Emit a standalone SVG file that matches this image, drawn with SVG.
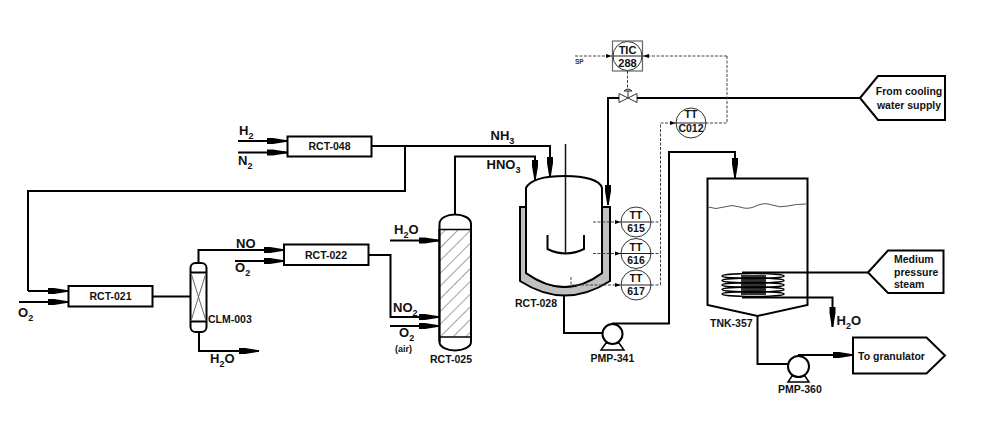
<svg xmlns="http://www.w3.org/2000/svg" width="990" height="446" viewBox="0 0 990 446">
<style>
text{font-family:"Liberation Sans",Arial,sans-serif;font-weight:bold;fill:#111}
.l{font-size:10.5px}
.c{font-size:13px}
.s{font-size:9px}
.i{font-size:10.5px;text-anchor:middle}
.p{fill:none;stroke:#000;stroke-width:2}
.a{marker-end:url(#ah)}
.b{fill:#fff;stroke:#000;stroke-width:2}
.t{fill:none;stroke:#000;stroke-width:1.5}
.d{fill:none;stroke:#444;stroke-width:1;stroke-dasharray:3 1.5}
.da{marker-end:url(#sa)}
.n{fill:#fff;stroke:#333;stroke-width:1}
.r{stroke:#222;stroke-width:1}
</style>
<defs>
<marker id="ah" markerUnits="userSpaceOnUse" markerWidth="22" markerHeight="10" refX="20" refY="5" orient="auto">
<path d="M0 2H6L20 4.300V5.700L6 8H0Z" fill="#000"/>
</marker>
<marker id="sa" markerUnits="userSpaceOnUse" markerWidth="7" markerHeight="6" refX="6" refY="3" orient="auto">
<path d="M0 1L6 3L0 5Z" fill="#000"/>
</marker>
<pattern id="hatch" width="9" height="9" patternUnits="userSpaceOnUse" patternTransform="rotate(45)">
<rect width="9" height="9" fill="#fff"/><path d="M0 0V9" stroke="#444" stroke-width="1"/>
</pattern>
</defs>

<g id="rct-048"><rect class="b" x="287.500" y="136.500" width="84" height="20"/><text class="l" x="329.500" y="150" text-anchor="middle">RCT-048</text></g>
<g id="rct-021"><rect class="b" x="68.500" y="286" width="84" height="20.500"/><text class="l" x="110.500" y="300" text-anchor="middle">RCT-021</text></g>
<g id="rct-022"><rect class="b" x="284" y="244.500" width="84.500" height="20.500"/><text class="l" x="326" y="259" text-anchor="middle">RCT-022</text></g>

<g id="clm-003">
<rect class="b" x="190.500" y="263" width="16" height="69" rx="5"/>
<path class="p" d="M190.500 272.500H206.500M190.500 321.500H206.500"/>
<path d="M191 273L206 321M206 273L191 321" stroke="#666" stroke-width="1" fill="none"/>
<text class="l" x="208" y="323">CLM-003</text>
</g>

<g id="rct-025">
<path class="b" d="M439.500 229V224C439.500 218 447 214.500 455 214.500C463 214.500 471 218 471 224V342C471 347 463 350.500 455 350.500C447 350.500 439.500 347 439.500 342Z"/>
<rect x="439.500" y="229.500" width="31.500" height="107.500" fill="url(#hatch)" stroke="#000" stroke-width="1.500"/>
<path class="p" d="M439.500 229V342M471 229V342"/>
<text class="l" x="430" y="363">RCT-025</text>
</g>

<g id="rct-028">
<path d="M520 207V281Q565 310 610 281V207H602V273Q565 301 526 273V207Z" fill="#c0c0c0" stroke="#000" stroke-width="2"/>
<path class="b" d="M526 273V188C530 180 545 176 565 176C585 176 600 180 602 188V273Q565 301 526 273Z"/>
<path d="M565.500 144V253" fill="none" stroke="#111" stroke-width="1.500"/>
<path class="p" d="M547.500 235V249Q565.500 258 584 249V235"/>
<text class="l" x="515" y="306.500">RCT-028</text>
</g>

<g id="tt-615"><circle class="n" cx="636" cy="222" r="15"/><path class="r" d="M621 222H651"/><text class="i" x="636" y="219">TT</text><text class="i" x="636" y="232">615</text></g>
<g id="tt-616"><circle class="n" cx="636" cy="253.500" r="15"/><path class="r" d="M621 253.500H651"/><text class="i" x="636" y="250.500">TT</text><text class="i" x="636" y="263.500">616</text></g>
<g id="tt-617"><circle class="n" cx="636" cy="285" r="15"/><path class="r" d="M621 285H651"/><text class="i" x="636" y="282">TT</text><text class="i" x="636" y="295">617</text></g>
<g id="tt-c012"><circle class="n" cx="691" cy="123" r="15"/><path class="r" d="M676 123H706"/><text class="i" x="691" y="118">TT</text><text class="i" x="691" y="132">C012</text></g>

<g id="tic-288">
<rect x="612.500" y="41" width="30" height="30" fill="#fff" stroke="#666" stroke-width="1.200"/>
<circle class="n" cx="627.500" cy="56" r="14.500"/>
<path class="r" d="M613 56H642"/>
<text class="i" x="627.500" y="54" style="font-size:11px">TIC</text>
<text class="i" x="627.500" y="67" style="font-size:11px">288</text>
</g>
<text x="575" y="64" style="font-size:6.500px;fill:#334">SP</text>

<g id="valve">
<path d="M619 93.500L628 98L619 102.500ZM637 93.500L628 98L637 102.500Z" fill="#fff" stroke="#333" stroke-width="1"/>
<path d="M628 98V91" stroke="#333" stroke-width="1"/>
<path d="M624 91Q628 87 632 91Z" fill="#ccc" stroke="#333" stroke-width="1"/>
</g>

<g id="pmp-341">
<path d="M606 343L601 350H624L619 343Z" fill="#fff" stroke="#000" stroke-width="1.500"/>
<circle class="b" cx="612.500" cy="334" r="10"/>
<text class="l" x="590.500" y="361.500">PMP-341</text>
</g>
<g id="pmp-360">
<path d="M792 376L788 382H809L805 376Z" fill="#fff" stroke="#000" stroke-width="1.500"/>
<circle class="b" cx="798.500" cy="366.500" r="10.500"/>
<text class="l" x="778" y="392.500">PMP-360</text>
</g>

<g id="tnk-357">
<path class="b" d="M707.500 178.500H807.500V305L757.500 316L707.500 305Z"/>
<path d="M708 207Q716 210 724 207T740 207T756 206T772 205T788 206T806 204" fill="none" stroke="#555" stroke-width="1"/>
<rect x="741" y="275" width="25" height="20" fill="#333"/>
<g class="t"><ellipse cx="753" cy="276" rx="31" ry="2.500"/><ellipse cx="753" cy="280.500" rx="31" ry="2.500"/><ellipse cx="753" cy="285" rx="31" ry="2.500"/><ellipse cx="753" cy="289.500" rx="31" ry="2.500"/><ellipse cx="753" cy="294" rx="31" ry="2.500"/></g>
<text class="l" x="710" y="326.500">TNK-357</text>
</g>

<g id="cooling-water"><path class="b" d="M860 98L878 76H945V120H878Z"/><text class="l" x="909" y="95" text-anchor="middle">From cooling</text><text class="l" x="909" y="108.500" text-anchor="middle">water supply</text></g>
<g id="steam"><path class="b" d="M868 272.500L888 250.500H943.500V293H888Z"/><text class="l" x="894" y="263">Medium</text><text class="l" x="894" y="275.500">pressure</text><text class="l" x="894" y="288">steam</text></g>
<g id="granulator"><path class="b" d="M853 337.500H926.500L945 355.500L926.500 373.500H853Z"/><text class="l" x="858" y="359.500">To granulator</text></g>

<g id="connectors">
<path class="p a" d="M238 141H287"/>
<path class="p a" d="M238 152.500H287"/>
<path class="p a" d="M372 146H550V177"/>
<path class="p" d="M405 146V191H28V291"/>
<path class="p a" d="M28 291H68"/>
<path class="p a" d="M19 302H68"/>
<path class="p" d="M153 296.500H190"/>
<path class="p a" d="M198.500 263V250H284"/>
<path class="p a" d="M235 261H284"/>
<path class="p a" d="M199 332V351H259"/>
<path class="p a" d="M369 255H390.500V317H439"/>
<path class="p a" d="M390 240.500H439"/>
<path class="p a" d="M390 326H439"/>
<path class="p a" d="M455 215V156.500H535V180"/>
<path class="p" d="M860 98H637"/>
<path class="p a" d="M619 98H608V205"/>
<path class="p" d="M564 296V333H602"/>
<path class="p a" d="M612 323.500H669V152H735V178"/>
<path class="p" d="M868 272.500H742"/>
<path class="p a" d="M742 297.500H832.500V327"/>
<path class="p" d="M757.500 316V364H789"/>
<path class="p a" d="M798 355H853"/>
<path class="d da" d="M575 56H612"/>
<path class="d da" d="M727 56H643"/>
<path class="d" d="M727 56V123H706"/>
<path class="d da" d="M660.500 285V123H676"/>
<path class="d" d="M627.500 71V89"/>
<path class="d da" d="M593 222H621"/>
<path class="d da" d="M593 253.500H621"/>
<path class="d da" d="M571 277V285H621"/>
<path class="d" d="M651 222H660.500M651 253.500H660.500M651 285H660.500"/>
</g>

<g id="labels">
<text class="c" x="239" y="135">H<tspan class="s" dy="4">2</tspan></text>
<text class="c" x="238" y="165">N<tspan class="s" dy="4">2</tspan></text>
<text class="c" x="490.500" y="140">NH<tspan class="s" dy="4">3</tspan></text>
<text class="c" x="486.500" y="169">HNO<tspan class="s" dy="4">3</tspan></text>
<text class="c" x="236" y="247.500">NO</text>
<text class="c" x="235" y="271.500">O<tspan class="s" dy="4">2</tspan></text>
<text class="c" x="394" y="234">H<tspan class="s" dy="4">2</tspan><tspan dy="-4">O</tspan></text>
<text class="c" x="393" y="311.500">NO<tspan class="s" dy="4">2</tspan></text>
<text class="c" x="399" y="337">O<tspan class="s" dy="4">2</tspan></text>
<text x="395" y="351.500" style="font-size:9px">(air)</text>
<text class="c" x="18" y="316.500">O<tspan class="s" dy="4">2</tspan></text>
<text class="c" x="210" y="363">H<tspan class="s" dy="4">2</tspan><tspan dy="-4">O</tspan></text>
<text class="c" x="836.500" y="324.500">H<tspan class="s" dy="4">2</tspan><tspan dy="-4">O</tspan></text>
</g>
</svg>
